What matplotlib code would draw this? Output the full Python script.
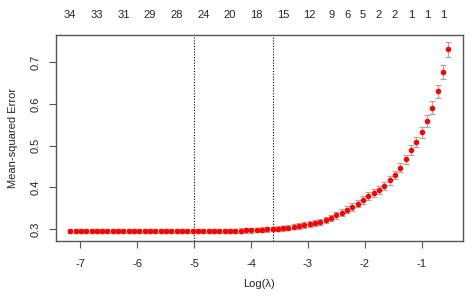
import matplotlib
matplotlib.use("Agg")
import matplotlib.pyplot as plt

plt.rcParams["font.family"] = ["Liberation Sans", "DejaVu Sans"]

# cross-validation curve (glmnet style)
log_lambda = [-7.175, -7.082, -6.988, -6.895, -6.801, -6.708, -6.614, -6.521, -6.427, -6.334,
              -6.240, -6.147, -6.053, -5.960, -5.866, -5.773, -5.679, -5.586, -5.492, -5.399,
              -5.305, -5.212, -5.118, -5.025, -4.931, -4.838, -4.744, -4.651, -4.557, -4.464,
              -4.370, -4.277, -4.183, -4.090, -3.996, -3.903, -3.809, -3.716, -3.622, -3.529,
              -3.435, -3.342, -3.248, -3.155, -3.061, -2.968, -2.874, -2.781, -2.687, -2.594,
              -2.500, -2.407, -2.313, -2.220, -2.126, -2.033, -1.939, -1.846, -1.752, -1.659,
              -1.565, -1.472, -1.378, -1.285, -1.191, -1.098, -1.004, -0.911, -0.817, -0.724,
              -0.630, -0.537]

mse = [0.2966, 0.2966, 0.2966, 0.2965, 0.2965, 0.2965, 0.2964, 0.2964, 0.2963, 0.2963,
       0.2962, 0.2962, 0.2961, 0.2960, 0.2960, 0.2959, 0.2959, 0.2958, 0.2957, 0.2957,
       0.2956, 0.2956, 0.2955, 0.2955, 0.2955, 0.2955, 0.2955, 0.2956, 0.2957, 0.2958,
       0.2960, 0.2963, 0.2966, 0.2970, 0.2975, 0.2980, 0.2988, 0.2995, 0.3005, 0.3015,
       0.3027, 0.3040, 0.3055, 0.3075, 0.3095, 0.3120, 0.3150, 0.3180, 0.3220, 0.3270,
       0.3330, 0.3390, 0.3470, 0.3530, 0.3610, 0.3700, 0.3790, 0.3860, 0.3940, 0.4040,
       0.4170, 0.4300, 0.4470, 0.4670, 0.4900, 0.5090, 0.5320, 0.5590, 0.5910, 0.6300,
       0.6770, 0.7310]

mse_se = [0.0050, 0.0050, 0.0050, 0.0050, 0.0050, 0.0050, 0.0050, 0.0050, 0.0050, 0.0050,
          0.0050, 0.0050, 0.0050, 0.0050, 0.0050, 0.0050, 0.0050, 0.0050, 0.0050, 0.0050,
          0.0050, 0.0050, 0.0050, 0.0050, 0.0050, 0.0051, 0.0051, 0.0051, 0.0052, 0.0052,
          0.0053, 0.0053, 0.0054, 0.0054, 0.0055, 0.0055, 0.0056, 0.0057, 0.0058, 0.0059,
          0.0060, 0.0061, 0.0062, 0.0064, 0.0066, 0.0068, 0.0070, 0.0072, 0.0075, 0.0078,
          0.0080, 0.0082, 0.0085, 0.0087, 0.0089, 0.0091, 0.0093, 0.0095, 0.0097, 0.0099,
          0.0100, 0.0102, 0.0105, 0.0110, 0.0115, 0.0120, 0.0130, 0.0140, 0.0150, 0.0160,
          0.0170, 0.0175]

# number of nonzero coefficients shown on top axis
nz_index = [0, 5, 10, 15, 20, 25, 30, 35, 40, 45, 49, 52, 55, 58, 61, 64, 67, 70]
nz_labels = ["34", "33", "31", "29", "28", "24", "20", "18", "15", "12",
             "9", "6", "5", "2", "2", "1", "1", "1"]

lambda_min = -5.01
lambda_1se = -3.61

x_ticks = [-7, -6, -5, -4, -3, -2, -1]
y_ticks = [0.3, 0.4, 0.5, 0.6, 0.7]

fig = plt.figure(figsize=(4.74, 2.97), dpi=100)
ax = fig.add_axes([0.1175, 0.189, 0.859, 0.693])

ax.errorbar(log_lambda, mse, yerr=mse_se, fmt="none", ecolor="darkgrey",
            elinewidth=0.9, capsize=2.5, capthick=0.9, zorder=2)
ax.plot(log_lambda, mse, "o", color="red", markersize=4.0, markeredgewidth=0, zorder=3)

ax.axvline(lambda_min, color="black", linestyle=(0, (1, 1.5)), linewidth=0.8, zorder=1)
ax.axvline(lambda_1se, color="black", linestyle=(0, (1, 1.5)), linewidth=0.8, zorder=1)

ax.set_xlim(-7.43, -0.28)
ax.set_ylim(0.272, 0.765)
ax.set_xticks(x_ticks)
ax.set_xticklabels([str(v) for v in x_ticks])
ax.set_yticks(y_ticks)
ax.set_yticklabels([str(v) for v in y_ticks], rotation=90, va="center")

for s in ax.spines.values():
    s.set_color("#555555")
    s.set_linewidth(1.0)

ax.tick_params(axis="both", direction="out", length=5, width=0.8, color="#555555",
               labelsize=8, labelcolor="#222222")
ax.tick_params(axis="x", pad=8)
ax.tick_params(axis="y", pad=6)

ax.set_xlabel("Log(\u03bb)", fontsize=8, color="#222222", labelpad=7)
ax.set_ylabel("Mean-squared Error", fontsize=8, color="#222222", labelpad=9)

top = ax.secondary_xaxis("top")
top.set_xticks([log_lambda[i] for i in nz_index])
top.set_xticklabels(nz_labels)
top.tick_params(length=0, pad=11, labelsize=8, labelcolor="#222222")
top.spines["top"].set_visible(False)

fig.savefig("out.png", dpi=100)
